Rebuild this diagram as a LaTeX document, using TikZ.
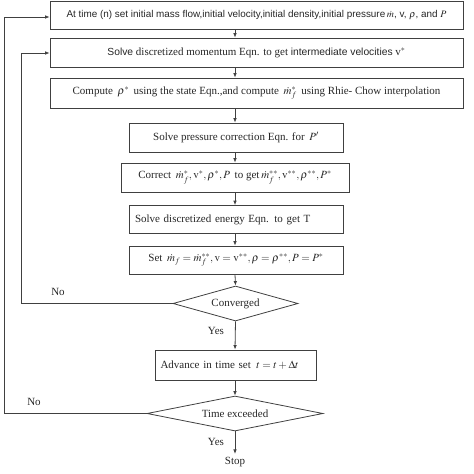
\documentclass[tikz,border=0pt]{standalone}
\usepackage{mathptmx}
\usepackage{fontspec}
\setmainfont{Liberation Serif}
\setsansfont{Liberation Sans}
\usetikzlibrary{shapes.geometric,arrows.meta}
\begin{document}
\begin{tikzpicture}[x=1pt,y=-1pt,
  ln/.style={draw=black!75,line width=0.8pt},
  box/.style={ln,rectangle,inner sep=0pt,text=black!85,font=\fontsize{11}{12}\selectfont},
  dia/.style={ln,diamond,aspect=3.6,inner sep=0pt,text=black!85,font=\fontsize{11}{12}\selectfont},
  arr/.style={ln,-{Latex[length=4.5pt,width=3.6pt]}},
  lbl/.style={font=\fontsize{11}{12}\selectfont,text=black!85,inner sep=0pt}]
\useasboundingbox (0,0) rectangle (474,474);
\node[box,minimum width=413pt,minimum height=28pt] (b1) at (256.5,15)
  {\sffamily\fontsize{9.9}{11}\selectfont At time (n) set initial mass flow,initial velocity,initial density,initial pressure\,$\dot m$, v, $\rho$, and $P$};
\node[box,minimum width=413pt,minimum height=29pt] (b2) at (256.5,52.5)
  {{\sffamily\fontsize{10.3}{11}\selectfont Solve} discretized momentum Eqn. to get {\sffamily\fontsize{10.3}{11}\selectfont intermediate velocities} v$^*$};
\node[box,minimum width=413pt,minimum height=30pt] (b3) at (256.5,93)
  {Compute \,$\rho^*$\, using the state Eqn.,and compute \,$\dot m_f^*$\, using Rhie- Chow interpolation};
\node[box,minimum width=214pt,minimum height=29pt] (b4) at (236,137.5)
  {Solve pressure correction Eqn. for \,$P'$};
\node[box,minimum width=228pt,minimum height=29pt] (b5) at (235,177.5)
  {Correct \,$\dot m_f^*, \mathrm{v}^*, \rho^*, P$\, to get\,$\dot m_f^{**}, \mathrm{v}^{**}, \rho^{**}, P^*$};
\node[box,minimum width=214pt,minimum height=28pt,text width=202pt,align=left] (b6) at (236,219.5)
  {Solve discretized energy Eqn. to get T};
\node[box,minimum width=214pt,minimum height=28pt] (b7) at (236,260)
  {Set \,$\dot m_f = \dot m_f^{**}, \mathrm{v}=\mathrm{v}^{**}, \rho=\rho^{**}, P=P^*$};
\node[dia,minimum width=125pt,minimum height=35pt] (cv) at (235.5,303.5) {Converged};
\node[box,minimum width=161pt,minimum height=30pt,text width=150pt,align=left] (adv) at (235.5,365)
  {Advance in time set \,$t=t+\Delta t$};
\node[dia,minimum width=176pt,minimum height=35pt] (te) at (235,413.5) {Time exceeded};
\node[lbl] (stop) at (235,462) {Stop};
\coordinate (ax) at (235,0);
\coordinate (l1) at (4.5,0);
\coordinate (l2) at (21,0);
\draw[arr] (b1.south -| ax) -- (b2.north -| ax);
\draw[arr] (b2.south -| ax) -- (b3.north -| ax);
\draw[arr] (b3.south -| ax) -- (b4.north -| ax);
\draw[arr] (b4.south -| ax) -- (b5.north -| ax);
\draw[arr] (b5.south -| ax) -- (b6.north -| ax);
\draw[arr] (b6.south -| ax) -- (b7.north -| ax);
\draw[arr] (b7.south -| ax) -- (cv.north);
\draw[arr] (cv.south) -- (adv.north -| ax);
\draw[arr] (adv.south -| ax) -- (te.north);
\draw[arr] (te.south) -- ([yshift=3pt]stop.north);
\draw[arr] (cv.west) -- (cv.west -| l2) -- ([yshift=-0.5pt]b2.west -| l2) -- ([yshift=-0.5pt]b2.west);
\draw[arr] (te.west) -- (te.west -| l1) -- ([yshift=-2pt]b1.west -| l1) -- ([yshift=-2pt]b1.west);
\node[lbl] (no1) at (58,292) {No};
\node[lbl] (no2) at (34,402) {No};
\node[lbl] (yes1) at (216,331) {Yes};
\node[lbl] (yes2) at (216,442) {Yes};
\end{tikzpicture}
\end{document}
